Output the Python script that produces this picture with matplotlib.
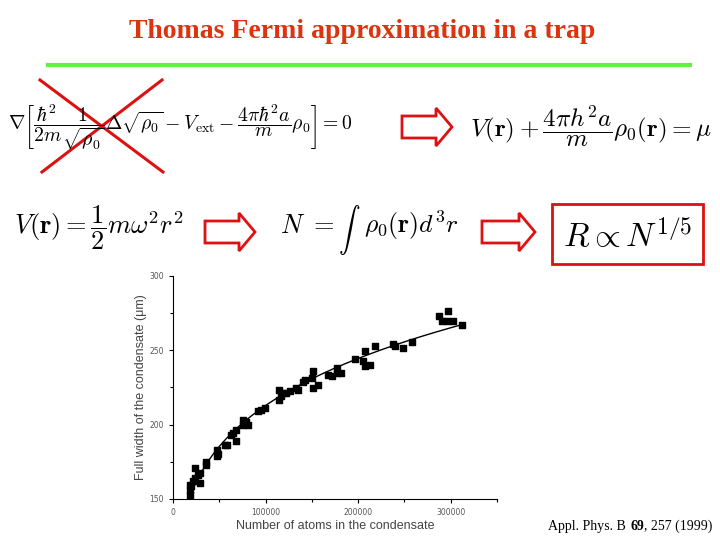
import matplotlib
matplotlib.use('Agg')
import matplotlib.pyplot as plt
import numpy as np
from matplotlib.patches import FancyArrow, Rectangle

plt.rcParams['mathtext.fontset'] = 'cm'

# data: number of atoms vs full width (um)
atoms = [18000, 18000, 18800, 19500, 21600, 23400, 23400, 27000, 28800, 28800,
         36000, 36000, 47000, 47600, 48500, 56000, 58000, 63000, 65000, 68500,
         68500, 75700, 75700, 79300, 81000, 92000, 95500, 99000, 115000, 115000,
         117000, 119000, 122600, 126000, 133000, 135000, 140600, 142400, 150000, 151500,
         151500, 156800, 167700, 171300, 176700, 176700, 182000, 196500, 205500, 207400,
         207400, 212800, 218200, 238000, 239500, 248800, 257800, 287800, 290300, 297500,
         296000, 302900, 311900]
width = [152.9, 156.0, 159.6, 158.5, 162.0, 171.0, 164.0, 166.0, 161.0, 167.5,
         173.0, 175.0, 183.0, 179.0, 180.0, 186.5, 186.5, 193.0, 194.4, 189.0,
         196.6, 203.0, 200.0, 202.0, 200.0, 209.0, 210.0, 211.0, 223.5, 216.8,
         219.0, 221.0, 221.0, 222.9, 224.7, 223.6, 229.0, 230.0, 231.4, 236.0,
         224.7, 227.0, 233.6, 232.5, 238.0, 234.8, 234.8, 244.0, 242.6, 239.2,
         249.8, 240.0, 252.7, 254.5, 252.7, 251.6, 255.6, 272.9, 269.5, 276.7,
         269.5, 269.5, 267.3]

atoms = np.array(atoms, dtype=float)
width = np.array(width)

# least squares fit R = a * N^(1/5)
p = atoms ** 0.2
a = np.sum(p * width) / np.sum(p * p)
nfit = np.linspace(atoms.min(), atoms.max(), 200)

fig = plt.figure(figsize=(7.2, 5.4), dpi=100)

# slide overlay in pixel coordinates
bg = fig.add_axes([0, 0, 1, 1])
bg.set_xlim(0, 720)
bg.set_ylim(540, 0)
bg.axis('off')

bg.text(362, 31, 'Thomas Fermi approximation in a trap', color='#dd3311',
        family='Liberation Serif', fontweight='bold', fontsize=20,
        ha='center', va='center')
bg.plot([48, 690], [65, 65], color='#66ee44', lw=3)

eq_red = '#dd1111'
bg.text(8, 127, r'$\mathbf{\nabla}\left[\dfrac{\hbar^2}{2m}\dfrac{1}{\sqrt{\rho_0}}\Delta\sqrt{\rho_0}'
        r' - V_{\rm ext} - \dfrac{4\pi\hbar^2 a}{m}\rho_0\right] = \mathbf{0}$',
        fontsize=14.2, ha='left', va='center')
bg.plot([40, 163], [80, 172], color=eq_red, lw=2.2)
bg.plot([162, 42], [80, 172], color=eq_red, lw=2.2)
bg.text(470, 126, r'$V(\mathbf{r}) + \dfrac{4\pi h^2 a}{m}\rho_0(\mathbf{r}) = \mu$',
        fontsize=18, ha='left', va='center')
bg.text(14, 228, r'$V(\mathbf{r}) = \dfrac{1}{2}m\omega^2 r^2$',
        fontsize=19, ha='left', va='center')
bg.text(280, 233, r'$N\ =$', fontsize=19, ha='left', va='baseline')
bg.text(338, 230, r'$\int$', fontsize=15.5, ha='left', va='center')
bg.text(364, 233, r'$\rho_0(\mathbf{r})d^3r$', fontsize=18.5, ha='left', va='baseline')
bg.text(563, 236, r'$R \propto N^{1/5}$', fontsize=24, ha='left', va='center')
bg.add_patch(Rectangle((552, 204), 151, 60, fill=False, edgecolor=eq_red, lw=2))

for x0, y0, ln in [(402, 127, 50), (205, 232, 50), (482, 232, 53)]:
    bg.add_patch(FancyArrow(x0, y0, ln, 0, width=22, head_width=38,
                            head_length=16, length_includes_head=True,
                            facecolor='white', edgecolor=eq_red, lw=2))

# citation with bold volume number, pieces chained one after another
t1 = bg.text(548, 533, 'Appl. Phys. B', family='Liberation Serif',
             fontsize=10, ha='left', va='bottom')
t2 = bg.annotate('69', xy=(1, 0), xycoords=t1, xytext=(3.2, 0),
                 textcoords='offset points', family='Liberation Serif',
                 fontweight='bold', fontsize=10, ha='left', va='bottom')
bg.annotate(', 257 (1999)', xy=(1, 0), xycoords=t2, family='Liberation Serif',
            fontsize=10, ha='left', va='bottom')

# the scatter plot
ax = fig.add_axes([173 / 720, 41 / 540, 324 / 720, 223 / 540])
ax.scatter(atoms, width, marker='s', s=22, color='black', zorder=3)
ax.plot(nfit, a * nfit ** 0.2, color='black', lw=1)
ax.set_xlim(0, 350000)
ax.set_ylim(150, 300)
ax.set_xticks([0, 100000, 200000, 300000])
ax.set_xticks([50000, 150000, 250000, 350000], minor=True)
ax.set_yticks([150, 200, 250, 300])
ax.set_yticks([175, 225, 275], minor=True)
ax.spines['top'].set_visible(False)
ax.spines['right'].set_visible(False)
ax.tick_params(labelsize=5.5, labelcolor='#555555', length=3, width=0.8)
ax.tick_params(which='minor', length=2, width=0.8)
ax.set_xlabel('Number of atoms in the condensate', fontsize=9, color='#444444',
              family='Liberation Sans', labelpad=2)
ax.set_ylabel('Full width of the condensate (\u03bcm)', fontsize=9, color='#444444',
              family='Liberation Sans', labelpad=2)

fig.savefig('out.png', dpi=100)
